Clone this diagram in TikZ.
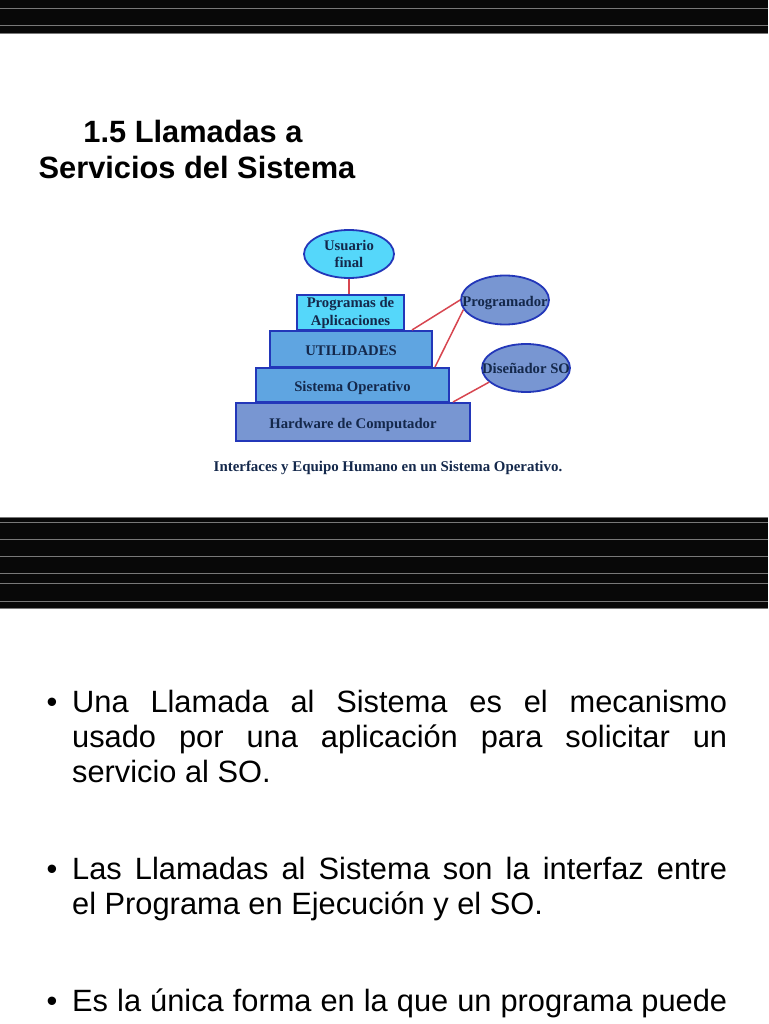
\documentclass[tikz,border=0pt]{standalone}
\usepackage{fontspec}
\setmainfont{Liberation Sans}
\newfontfamily\figfont{Liberation Serif}
\definecolor{barblack}{RGB}{8,8,8}
\definecolor{bargray}{RGB}{120,120,120}
\definecolor{edgeblue}{RGB}{35,55,185}
\definecolor{skyfill}{RGB}{85,215,250}
\definecolor{midfill}{RGB}{95,165,225}
\definecolor{lowfill}{RGB}{120,150,210}
\definecolor{linkred}{RGB}{215,70,80}
\definecolor{figtext}{RGB}{20,40,75}
\tikzset{
  figlabel/.style={inner sep=0pt, align=center, text=figtext, font=\figfont\bfseries\fontsize{14.7}{17}\selectfont},
  layer/.style={figlabel, draw=edgeblue, line width=1.8pt},
  oneline/.style={text height=13pt, text depth=0pt},
  actor/.style={draw=edgeblue, line width=1.8pt, ellipse, inner sep=0pt},
  link/.style={draw=linkred, line width=1.5pt},
  bullet/.style={anchor=base, inner sep=0pt, font=\fontsize{30.8}{35}\selectfont},
  para/.style={anchor=north west, inner sep=0pt, text width=655pt, align=justify, font=\fontsize{30.8}{35.2}\selectfont},
  heading/.style={anchor=base, inner sep=0pt, font=\bfseries\fontsize{30.8}{36}\selectfont},
}
\usetikzlibrary{shapes.geometric}
\begin{document}
\begin{tikzpicture}[x=1pt, y=-1pt]
\useasboundingbox (0,0) rectangle (768,1024);
% black bands
\fill[barblack](0,0) rectangle (768,33);
\fill[barblack](0,517) rectangle (768,608);
\foreach \y in {8,25,33,517,522,539,556,573,583,601,608}
  \draw[bargray, line width=.8pt](0,\y)--(768,\y);
% title
\node[heading] (titleone) at (193,143) {1.5 Llamadas a};
\node[heading] (titletwo) at (197,179) {Servicios del Sistema};
% pyramid
\node[layer, oneline, fill=lowfill, minimum width=234pt, minimum height=38pt] (hardware) at (353,422) {Hardware de Computador};
\node[layer, oneline, fill=midfill, minimum width=193pt, minimum height=34pt] (sistema) at (352.5,385) {Sistema Operativo};
\node[layer, oneline, fill=midfill, minimum width=162pt, minimum height=36pt] (utilidades) at (351,349) {UTILIDADES};
\node[layer, fill=skyfill, minimum width=107pt, minimum height=35pt] (programas) at (350.5,312.5) {Programas de\\[1pt]Aplicaciones};
\node[actor, fill=skyfill, minimum width=90pt, minimum height=48pt] (usuario) at (349,254) {};
\node[actor, fill=lowfill, minimum width=88pt, minimum height=49pt] (programador) at (505,300) {};
\node[actor, fill=lowfill, minimum width=88pt, minimum height=48pt] (disenador) at (526,368) {};
\node[figlabel] (usuariotext) at (usuario) {Usuario\\final};
\node[figlabel, oneline] (programadortext) at (programador) {Programador};
\node[figlabel] (disenadortext) at (disenador) {Diseñador SO};
\coordinate (utilfoot) at (412,330);
\coordinate (sisfoot) at (435,367);
\coordinate (hardfoot) at (453,402);
\draw[link](usuario.south)--(programas.north -| usuario.south);
\draw[link](programador.west)--(utilfoot);
\draw[link](programador.193)--(sisfoot);
\draw[link](disenador.201)--(hardfoot);
\node[anchor=base, inner sep=0pt, text=figtext, font=\figfont\bfseries\fontsize{14.9}{17}\selectfont] (caption) at (388,471) {Interfaces y Equipo Humano en un Sistema Operativo.};
% bullets
\node[bullet] (dotone) at (52,712) {•};
\node[para] (textone) at (72,690) {Una Llamada al Sistema es el mecanismo\linebreak usado por una aplicación para solicitar un\linebreak servicio al SO.};
\node[bullet] (dottwo) at (52,879) {•};
\node[para] (texttwo) at (72,857) {Las Llamadas al Sistema son la interfaz entre\linebreak el Programa en Ejecución y el SO.};
\node[bullet] (dotthree) at (52,1011) {•};
\node[para] (textthree) at (72,989) {Es la única forma en la que un programa puede\linebreak solicitar un servicio al S.O.};
\end{tikzpicture}
\end{document}
